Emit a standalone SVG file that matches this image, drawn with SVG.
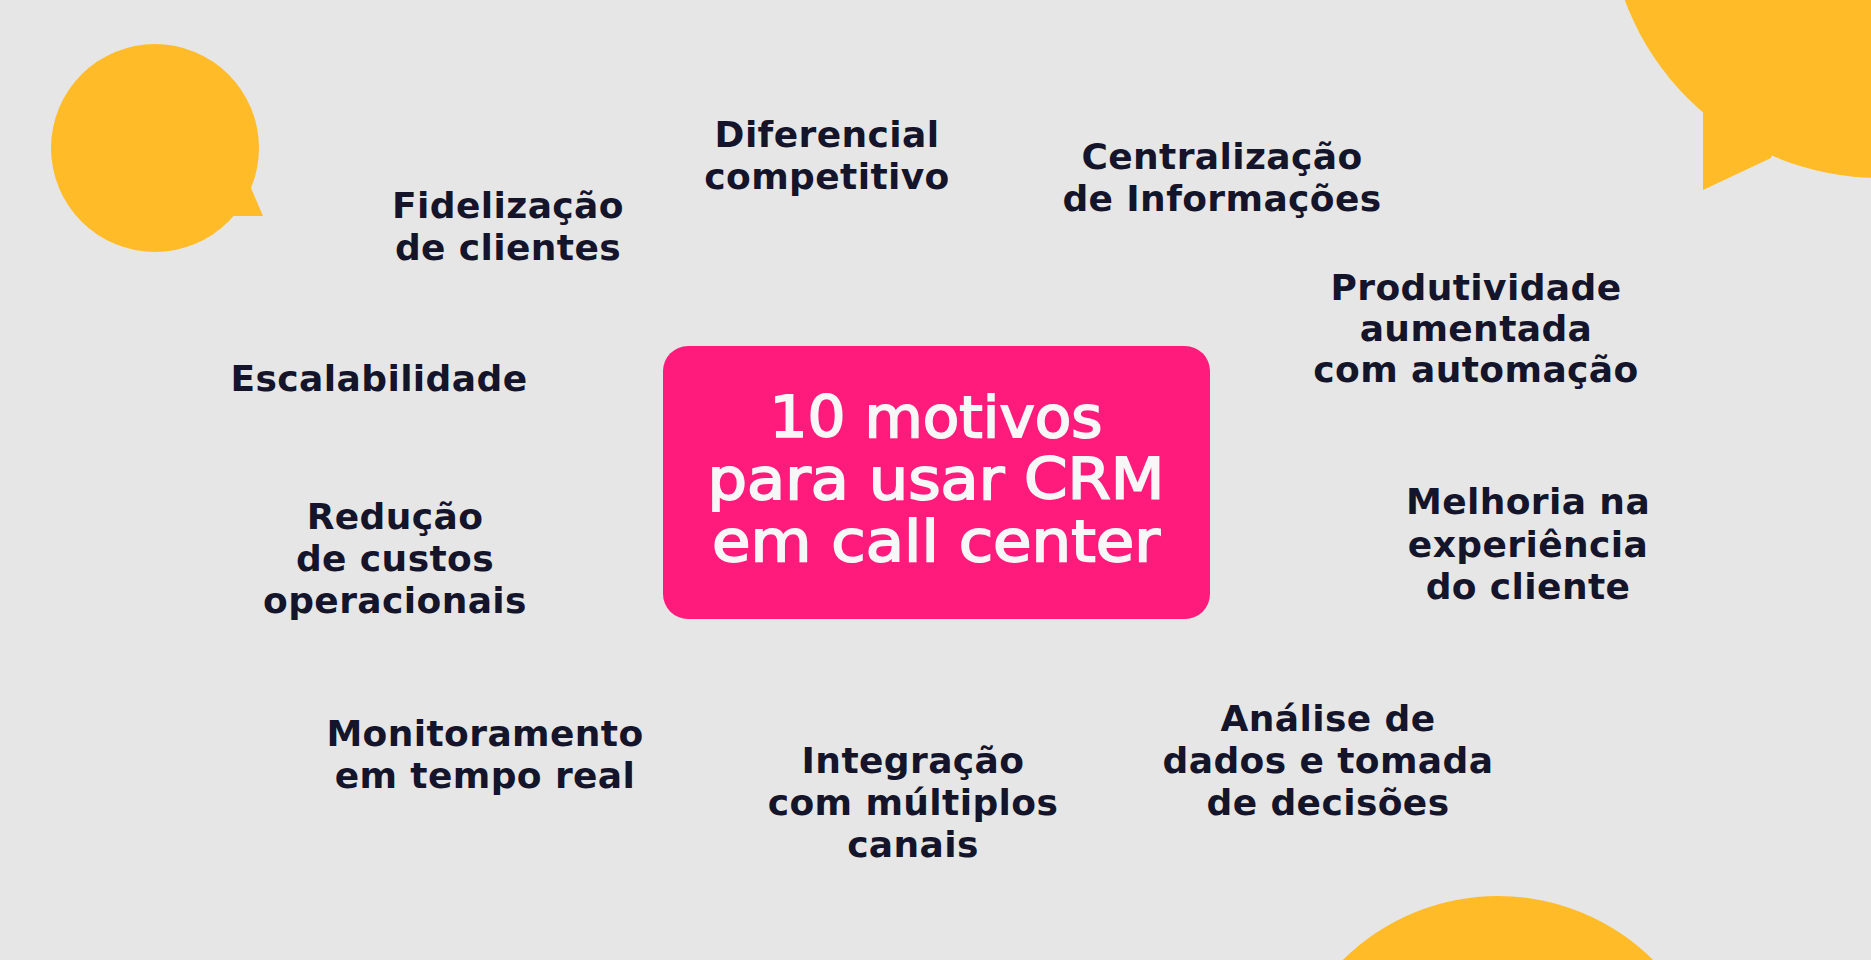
<svg xmlns="http://www.w3.org/2000/svg" width="1871" height="960" viewBox="0 0 1871 960">
  <style>
    .bg { fill: #E6E6E6; }
    .bubble { fill: #FFBC28; }
    .box { fill: #FF1B7C; }
    .title { font-family: "DejaVu Sans", "Liberation Sans", sans-serif; font-size: 57px; fill: #F7F7F7; stroke: #F7F7F7; stroke-width: 1.8px; text-anchor: middle; }
    .label { font-family: "DejaVu Sans", "Liberation Sans", sans-serif; font-size: 36px; font-weight: 700; fill: #14142A; text-anchor: middle; letter-spacing: 0.4px; }
  </style>
  <rect class="bg" x="0" y="0" width="1871" height="960"/>

  <g id="bubble-top-left">
    <circle class="bubble" cx="155" cy="148" r="104"/>
    <polygon class="bubble" points="230,175 251,188 263,216 228,216"/>
  </g>
  <g id="bubble-top-right">
    <circle class="bubble" cx="1880" cy="-94" r="272"/>
    <polygon class="bubble" points="1703,110 1703,190 1771,158 1790,100"/>
  </g>
  <g id="bubble-bottom">
    <circle class="bubble" cx="1498" cy="1116" r="220"/>
  </g>

  <g id="center">
    <rect class="box" x="663" y="346" width="547" height="273" rx="25" ry="25"/>
    <text class="title" x="936" y="437" textLength="333" lengthAdjust="spacingAndGlyphs">10 motivos</text>
    <text class="title" x="936" y="499" textLength="457" lengthAdjust="spacingAndGlyphs">para usar CRM</text>
    <text class="title" x="936" y="561" textLength="448" lengthAdjust="spacingAndGlyphs">em call center</text>
  </g>

  <g id="connectors"></g>

  <g id="diferencial">
    <text class="label" x="827" y="147">Diferencial</text>
    <text class="label" x="827" y="189">competitivo</text>
  </g>
  <g id="centralizacao">
    <text class="label" x="1222" y="169">Centralização</text>
    <text class="label" x="1222" y="211">de Informações</text>
  </g>
  <g id="fidelizacao">
    <text class="label" x="508" y="218">Fidelização</text>
    <text class="label" x="508" y="260">de clientes</text>
  </g>
  <g id="produtividade">
    <text class="label" x="1476" y="300">Produtividade</text>
    <text class="label" x="1476" y="341">aumentada</text>
    <text class="label" x="1476" y="382">com automação</text>
  </g>
  <g id="escalabilidade">
    <text class="label" x="379" y="391">Escalabilidade</text>
  </g>
  <g id="reducao">
    <text class="label" x="395" y="529">Redução</text>
    <text class="label" x="395" y="571">de custos</text>
    <text class="label" x="395" y="613">operacionais</text>
  </g>
  <g id="melhoria">
    <text class="label" x="1528" y="514">Melhoria na</text>
    <text class="label" x="1528" y="557">experiência</text>
    <text class="label" x="1528" y="599">do cliente</text>
  </g>
  <g id="monitoramento">
    <text class="label" x="485" y="746">Monitoramento</text>
    <text class="label" x="485" y="788">em tempo real</text>
  </g>
  <g id="integracao">
    <text class="label" x="913" y="773">Integração</text>
    <text class="label" x="913" y="815">com múltiplos</text>
    <text class="label" x="913" y="857">canais</text>
  </g>
  <g id="analise">
    <text class="label" x="1328" y="731">Análise de</text>
    <text class="label" x="1328" y="773">dados e tomada</text>
    <text class="label" x="1328" y="815">de decisões</text>
  </g>
</svg>
